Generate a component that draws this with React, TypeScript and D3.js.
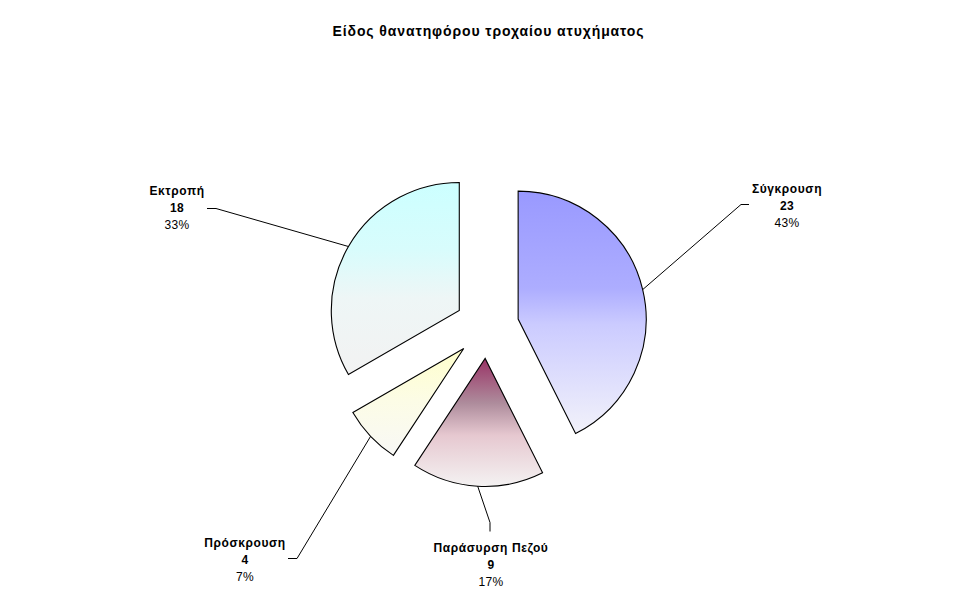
import * as d3 from "d3";
import { useEffect, useRef } from "react";

const title = "Είδος θανατηφόρου τροχαίου ατυχήματος";
const categories = ["Σύγκρουση", "Παράσυρση Πεζού", "Πρόσκρουση", "Εκτροπή"];
const values = [23, 9, 4, 18];
const percents = ["43%", "17%", "7%", "33%"];

// gradient stops per slice, [offset, colour] top -> bottom
const fills: [number, string][][] = [
  [[0, "#9999ff"], [0.4, "#adadff"], [0.55, "#cbcbff"], [1, "#f2f2fa"]],
  [[0, "#993366"], [0.35, "#ae8c9c"], [0.6, "#e6c8d0"], [1, "#f4f2f2"]],
  [[0, "#ffffcc"], [0.5, "#fcfce6"], [1, "#f8f8f6"]],
  [[0, "#ccffff"], [0.35, "#d8fcfc"], [0.6, "#eef6f6"], [1, "#f2f2f2"]],
];

// label layout: knee point (relative to pie centre), text centre x/y of first line
const labelLayout = [
  { knee: [254, -122], end: [262, -122], tx: 300, ty: -134 },
  { knee: [3, 196], end: [3, 205], tx: 4, ty: 225 },
  { knee: [-190, 232], end: [-199, 232], tx: -242, ty: 220 },
  { knee: [-271, -118], end: [-280, -118], tx: -310, ty: -132 },
];

export default function App() {
  const ref = useRef<SVGSVGElement | null>(null);

  useEffect(() => {
    const svg = d3.select(ref.current as SVGSVGElement);
    svg.selectAll("*").remove();

    const width = 977;
    const height = 600;
    const cx = 487;
    const cy = 326.5;
    const radius = 128;
    const explode = 32;
    const font = "'Liberation Sans', Arial, sans-serif";

    svg.attr("viewBox", `0 0 ${width} ${height}`);
    svg.append("rect").attr("width", width).attr("height", height).attr("fill", "#fff");

    const defs = svg.append("defs");
    fills.forEach((stops, i) => {
      const g = defs
        .append("linearGradient")
        .attr("id", `grad${i}`)
        .attr("x1", 0)
        .attr("y1", 0)
        .attr("x2", 0)
        .attr("y2", 1);
      stops.forEach(([o, c]) => {
        g.append("stop").attr("offset", `${o * 100}%`).attr("stop-color", c);
      });
    });

    svg
      .append("text")
      .attr("x", 488.5)
      .attr("y", 36)
      .attr("text-anchor", "middle")
      .attr("font-family", font)
      .attr("font-weight", "bold")
      .attr("font-size", "14px")
      .attr("letter-spacing", "0.9px")
      .attr("fill", "#000")
      .text(title);

    const pie = d3
      .pie<number>()
      .sort(null)
      .startAngle(0)
      .endAngle(2 * Math.PI)
      .value((d) => d);
    const arcs = pie(values);
    const arc = d3.arc<d3.PieArcDatum<number>>().innerRadius(0).outerRadius(radius);

    const g = svg.append("g").attr("transform", `translate(${cx},${cy})`);

    arcs.forEach((a, i) => {
      const mid = (a.startAngle + a.endAngle) / 2;
      const ux = Math.sin(mid);
      const uy = -Math.cos(mid);

      g.append("path")
        .attr("transform", `translate(${ux * explode},${uy * explode})`)
        .attr("d", arc(a) as string)
        .attr("fill", `url(#grad${i})`)
        .attr("stroke", "#000")
        .attr("stroke-width", 1.1);

      const lay = labelLayout[i];
      const sx = ux * (explode + radius);
      const sy = uy * (explode + radius);
      g.append("polyline")
        .attr("points", `${sx},${sy} ${lay.knee[0]},${lay.knee[1]} ${lay.end[0]},${lay.end[1]}`)
        .attr("fill", "none")
        .attr("stroke", "#000")
        .attr("stroke-width", 1);

      const lines = [categories[i], String(values[i]), percents[i]];
      lines.forEach((t, j) => {
        g.append("text")
          .attr("x", lay.tx)
          .attr("y", lay.ty + j * 17)
          .attr("text-anchor", "middle")
          .attr("font-family", font)
          .attr("font-weight", j < 2 ? "bold" : "normal")
          .attr("font-size", "12px")
          .attr("letter-spacing", j === 0 ? "0.6px" : "0.3px")
          .attr("fill", "#000")
          .text(t);
      });
    });
  }, []);

  return (
    <svg
      ref={ref}
      width={977}
      height={600}
      style={{ position: "absolute", left: 0, top: 0, display: "block" }}
    />
  );
}
